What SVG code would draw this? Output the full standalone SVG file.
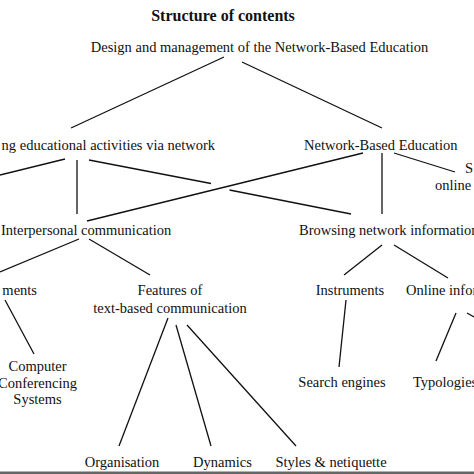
<svg xmlns="http://www.w3.org/2000/svg" width="474" height="474" viewBox="0 0 474 474">
<style>
text{font-family:"Liberation Serif","Times New Roman",serif;font-size:14.5px;fill:#111}
.t{font-weight:bold;font-size:16px}
.c{text-anchor:middle}
.e{text-anchor:end}
#connectors line{stroke:#111;stroke-width:1.3;stroke-linecap:butt}
</style>
<rect width="474" height="474" fill="#fff"/>
<text id="title" class="t c" x="223" y="21">Structure of contents</text>
<g id="connectors">
<line x1="224" y1="57" x2="71" y2="128"/>
<line x1="242" y1="62" x2="382" y2="128"/>
<line x1="65" y1="159" x2="0" y2="175"/>
<line x1="77" y1="160" x2="77" y2="214"/>
<line x1="89" y1="160" x2="211" y2="183.5"/>
<line x1="229.5" y1="190" x2="351" y2="214"/>
<line x1="363" y1="153" x2="87" y2="221"/>
<line x1="382" y1="153" x2="382" y2="214"/>
<line x1="394" y1="153" x2="455" y2="172"/>
<line x1="79" y1="239" x2="0" y2="272"/>
<line x1="89" y1="239" x2="150" y2="275"/>
<line x1="5" y1="300" x2="34" y2="354"/>
<line x1="168" y1="318" x2="119" y2="446"/>
<line x1="176" y1="325" x2="211" y2="446"/>
<line x1="187" y1="325" x2="296" y2="446"/>
<line x1="382" y1="245" x2="344" y2="275"/>
<line x1="394" y1="245" x2="448" y2="278"/>
<line x1="346" y1="300" x2="339" y2="367"/>
<line x1="456" y1="313" x2="436" y2="361"/>
<line x1="467" y1="313" x2="474" y2="317"/>
</g>
<g id="n-root"><text class="c" x="259.5" y="52">Design and management of the Network-Based Education</text></g>
<g id="n-activities"><text class="e" x="215" y="149.5">ng educational activities via network</text></g>
<g id="n-nbe"><text x="304" y="149.5">Network-Based Education</text></g>
<g id="n-online"><text x="465" y="173">S</text><text x="435" y="190">online</text></g>
<g id="n-interpersonal"><text x="1" y="234.5">Interpersonal communication</text></g>
<g id="n-browsing"><text x="299" y="234.5">Browsing network information</text></g>
<g id="n-instruments-l"><text class="e" x="37" y="295">ments</text></g>
<g id="n-features"><text class="c" x="170" y="295">Features of</text><text class="c" x="170" y="312.5">text-based communication</text></g>
<g id="n-instruments-r"><text class="c" x="350" y="295">Instruments</text></g>
<g id="n-onlineinfo"><text x="406" y="295">Online information</text></g>
<g id="n-ccs"><text class="c" x="37.5" y="370.5">Computer</text><text class="c" x="37.5" y="387.5">Conferencing</text><text class="c" x="37.5" y="404">Systems</text></g>
<g id="n-search"><text class="c" x="342" y="387">Search engines</text></g>
<g id="n-typologies"><text x="413" y="387">Typologies</text></g>
<g id="n-org"><text class="c" x="122" y="466.5">Organisation</text></g>
<g id="n-dyn"><text class="c" x="222.5" y="466.5">Dynamics</text></g>
<g id="n-styles"><text class="c" x="331" y="466.5">Styles &amp; netiquette</text></g>
<rect x="0" y="471.5" width="474" height="2.5" fill="#666"/>
</svg>
